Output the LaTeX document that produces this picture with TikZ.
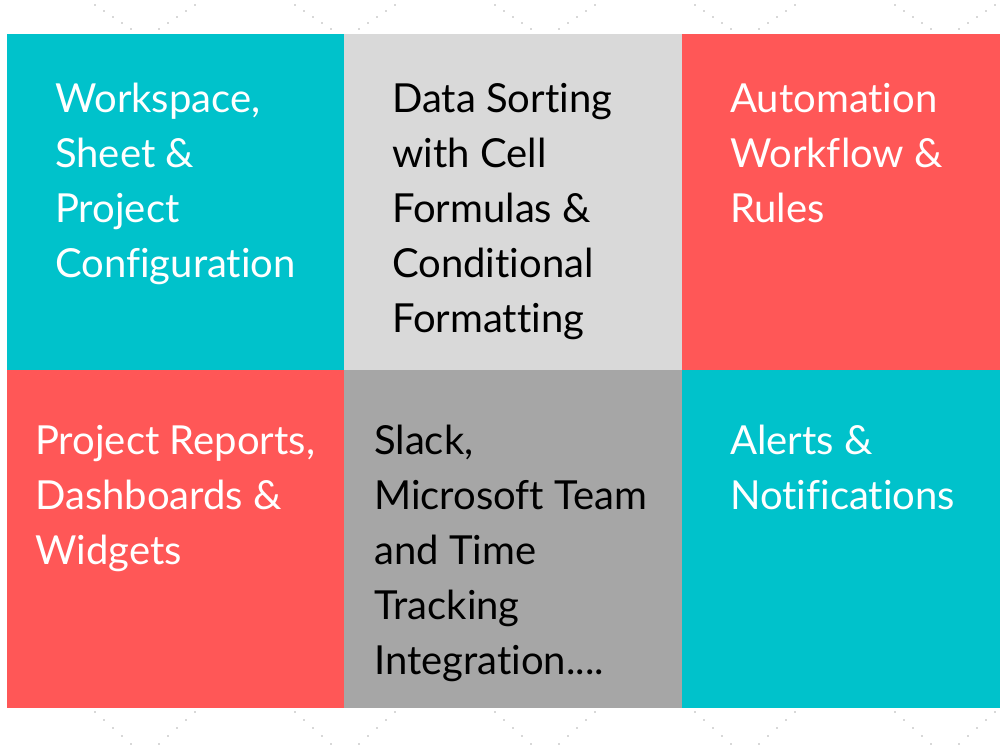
\documentclass[tikz,border=0pt]{standalone}
\usepackage{fontspec}
\setmainfont[Ligatures=NoCommon]{Lato}
\definecolor{teal}{HTML}{00C2CB}
\definecolor{coral}{HTML}{FF5757}
\definecolor{lgray}{HTML}{D9D9D9}
\definecolor{mgray}{HTML}{A6A6A6}
\begin{document}
\begin{tikzpicture}[x=1pt,y=-1pt,
  cell/.style={anchor=north west,align=left,font=\fontsize{40}{55}\selectfont,inner sep=0pt}]
\useasboundingbox (0,0) rectangle (1000,750);
\fill[white] (0,0) rectangle (1000,750);
\foreach \x in {0,200,...,1000}{
  \foreach \k in {0,...,4}{
    \fill[gray!60] (\x+95+\k*9,5+\k*6) circle (0.9);
    \fill[gray!60] (\x+195-\k*9,5+\k*6) circle (0.9);
    \fill[gray!60] (\x+95+\k*9,712+\k*8) circle (0.9);
    \fill[gray!60] (\x+195-\k*9,712+\k*8) circle (0.9);
  }}
\fill[teal] (7,34) rectangle (344,370);
\fill[lgray] (344,34) rectangle (682,370);
\fill[coral] (682,34) rectangle (1000,370);
\fill[coral] (7,370) rectangle (344,708);
\fill[mgray] (344,370) rectangle (682,708);
\fill[teal] (682,370) rectangle (1000,708);
\node[cell,text=white] (a) at (55,83) {Workspace,\\Sheet \&\\Project\\Configuration};
\node[cell,text=black] (b) at (392,83) {Data Sorting\\with Cell\\Formulas \&\\Conditional\\Formatting};
\node[cell,text=white] (c) at (730,83) {Automation\\Workflow \&\\Rules};
\node[cell,text=white] (d) at (35,425) {Project Reports,\\Dashboards \&\\Widgets};
\node[cell,text=black] (e) at (374,425) {Slack,\\Microsoft Team\\and Time\\Tracking\\Integration....};
\node[cell,text=white] (f) at (730,425) {Alerts \&\\Notifications};
\end{tikzpicture}
\end{document}
